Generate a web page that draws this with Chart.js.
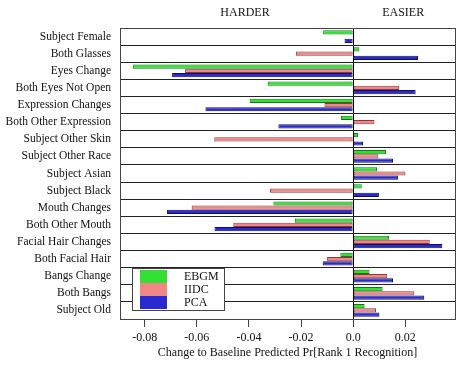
<!DOCTYPE html>
<html>
<head>
<meta charset="utf-8">
<script src="https://cdn.jsdelivr.net/npm/chart.js@4/dist/chart.umd.min.js"></script>
<style>
  html, body { margin: 0; padding: 0; background: #fff; }
  #wrap { width: 474px; height: 366px; }
</style>
</head>
<body>
<div id="wrap"><canvas id="chart"></canvas></div>
<script>
// Data
const categories = ['Subject Female', 'Both Glasses', 'Eyes Change', 'Both Eyes Not Open', 'Expression Changes',
   'Both Other Expression', 'Subject Other Skin', 'Subject Other Race', 'Subject Asian', 'Subject Black',
   'Mouth Changes', 'Both Other Mouth', 'Facial Hair Changes', 'Both Facial Hair', 'Bangs Change',
   'Both Bangs', 'Subject Old'];
const ebgm = [-0.0115, 0.0024, -0.0846, -0.0328, -0.0397, -0.0047, 0.0019, 0.0126, 0.0092, 0.0033,
   -0.0306, -0.0224, 0.0138, -0.0049, 0.0063, 0.0113, 0.0044];
const iidc = [-0.0003, -0.0220, -0.0645, 0.0177, -0.0110, 0.0082, -0.0533, 0.0097, 0.0201, -0.0319,
   -0.0620, -0.0460, 0.0294, -0.0100, 0.0131, 0.0235, 0.0088];
const pca = [-0.0033, 0.0249, -0.0695, 0.0240, -0.0567, -0.0287, 0.0038, 0.0153, 0.0172, 0.0099,
   -0.0715, -0.0532, 0.0342, -0.0117, 0.0153, 0.0273, 0.0101];
const tickValues = [-0.08, -0.06, -0.04, -0.02, 0, 0.02];
const tickLabels = ['-0.08', '-0.06', '-0.04', '-0.02', '0.0', '0.02'];
const seriesNames = ['EBGM', 'IIDC', 'PCA'];

const font = 'Liberation Serif';
const green = '#33e033', pink = '#f28585', blue = '#2a2ad0';

// Box around the plot, HARDER/EASIER headings and the inset legend
const extras = {
   id: 'extras',
   afterDraw(chart) {
      const ctx = chart.ctx;
      const a = chart.chartArea;
      const x = chart.scales.x;
      ctx.save();
      ctx.strokeStyle = '#444';
      ctx.lineWidth = 1;
      ctx.strokeRect(Math.round(a.left) + 0.5, Math.round(a.top) + 0.5,
         Math.round(a.right - a.left), Math.round(a.bottom - a.top));

      ctx.fillStyle = '#111';
      ctx.font = '12px "' + font + '"';
      ctx.textAlign = 'center';
      ctx.textBaseline = 'middle';
      ctx.fillText('HARDER', x.getPixelForValue(-0.0415), 13);
      ctx.fillText('EASIER', x.getPixelForValue(0.0192), 13);

      // legend
      const lx = 132, ly = 268, lw = 92, lh = 42;
      ctx.fillStyle = '#fff';
      ctx.fillRect(lx, ly, lw, lh);
      ctx.strokeStyle = '#444';
      ctx.strokeRect(lx + 0.5, ly + 0.5, lw, lh);
      chart.data.datasets.forEach((ds, i) => {
         ctx.fillStyle = ds.backgroundColor;
         ctx.fillRect(lx + 8, ly + 2 + i * 13, 27, 13);
         ctx.fillStyle = '#111';
         ctx.textAlign = 'left';
         ctx.fillText(ds.label, lx + 52, ly + 9 + i * 13);
      });
      ctx.restore();
   }
};

new Chart(document.getElementById('chart'), {
   type: 'bar',
   data: {
      labels: categories,
      datasets: [
         { label: seriesNames[0], data: ebgm, backgroundColor: green, borderColor: '#137a13' },
         { label: seriesNames[1], data: iidc, backgroundColor: pink, borderColor: '#8a3a3a' },
         { label: seriesNames[2], data: pca, backgroundColor: blue, borderColor: '#10105a' }
      ]
   },
   options: {
      indexAxis: 'y',
      responsive: true,
      maintainAspectRatio: false,
      animation: false,
      layout: { padding: { left: 0, right: 19, top: 28, bottom: 0 } },
      datasets: {
         bar: {
            borderWidth: 1,
            borderSkipped: false,
            categoryPercentage: 0.74,
            barPercentage: 1.0
         }
      },
      plugins: {
         legend: { display: false },
         tooltip: { enabled: false }
      },
      scales: {
         x: {
            min: -0.0895,
            max: 0.0391,
            afterBuildTicks: (scale) => { scale.ticks = tickValues.map(v => ({ value: v })); },
            afterFit: (scale) => { scale.height = 47; },
            grid: {
               color: (c) => (c.tick && c.tick.value === 0 ? '#000' : 'rgba(0,0,0,0)'),
               tickColor: '#444',
               tickLength: 8,
               lineWidth: 1
            },
            border: { display: false },
            ticks: {
               color: '#111',
               font: { family: font, size: 12 },
               padding: 4,
               maxRotation: 0,
               callback: (v, i) => tickLabels[i]
            },
            title: {
               display: true,
               text: 'Change to Baseline Predicted Pr[Rank 1 Recognition]',
               color: '#111',
               font: { family: font, size: 12 },
               padding: { top: 2, bottom: 6 }
            }
         },
         y: {
            afterFit: (scale) => { scale.width = 120; },
            grid: {
               offset: true,
               color: '#222',
               tickLength: 0,
               lineWidth: 1
            },
            border: { display: false },
            ticks: {
               color: '#111',
               font: { family: font, size: 11.5 },
               padding: 9,
               autoSkip: false
            }
         }
      }
   },
   plugins: [extras]
});
</script>
</body>
</html>
